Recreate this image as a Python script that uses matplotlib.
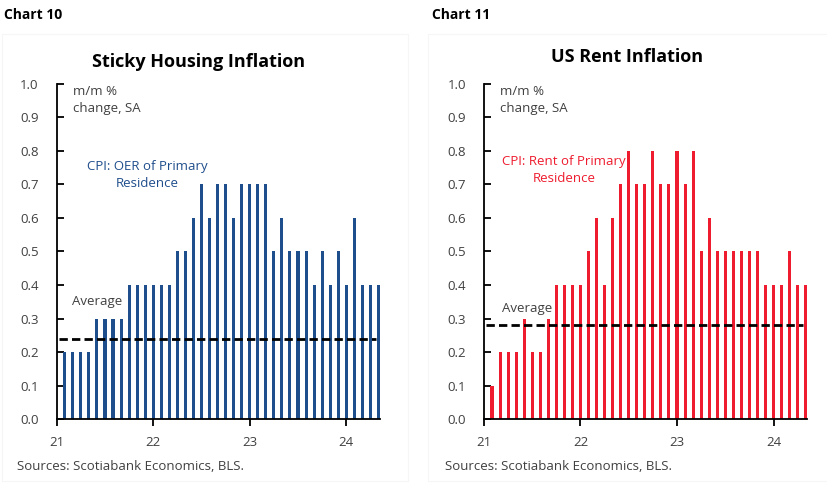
import numpy as np
import matplotlib.pyplot as plt
from matplotlib.patches import Rectangle

plt.rcParams['font.family'] = ['Open Sans', 'DejaVu Sans']

# months since Jan 2021 (bars start Feb 2021)
months = np.arange(1, 41)

oer = [0.2, 0.2, 0.2, 0.2, 0.3, 0.3, 0.3, 0.3, 0.4, 0.4,
       0.4, 0.4, 0.4, 0.4, 0.5, 0.5, 0.6, 0.7, 0.6, 0.7,
       0.7, 0.6, 0.7, 0.7, 0.7, 0.7, 0.5, 0.6, 0.5, 0.5,
       0.5, 0.4, 0.5, 0.4, 0.5, 0.4, 0.6, 0.4, 0.4, 0.4]
rent = [0.1, 0.2, 0.2, 0.2, 0.3, 0.2, 0.2, 0.3, 0.4, 0.4,
        0.4, 0.4, 0.5, 0.6, 0.4, 0.6, 0.7, 0.8, 0.7, 0.7,
        0.8, 0.7, 0.7, 0.8, 0.7, 0.8, 0.5, 0.6, 0.5, 0.5,
        0.5, 0.5, 0.5, 0.5, 0.4, 0.4, 0.4, 0.5, 0.4, 0.4]
oer_avg = 0.24
rent_avg = 0.28

year_ticks = [0, 12, 24, 36]
year_labels = ['21', '22', '23', '24']

blue = '#1f4e8c'
red = '#ee1c2e'
grey = '#404040'

fig = plt.figure(figsize=(8.28, 4.83), dpi=100)

# faint panel frames
for x0 in [2 / 828, 428 / 828]:
    fig.patches.append(Rectangle((x0, 0.004), 0.49, 0.925, transform=fig.transFigure,
                                 fill=False, edgecolor='#f6f6f6', lw=0.8))

panels = [
    dict(left=0.0685, vals=oer, avg=oer_avg, color=blue, title='Sticky Housing Inflation',
         title_x=198.7, title_y=61.7, chart='Chart 10', chart_x=4, src_x=17,
         lab='CPI: OER of Primary\nResidence', lab_x=0.279, lab_y=0.772, avg_x=0.048, avg_y=0.352),
    dict(left=0.5845, vals=rent, avg=rent_avg, color=red, title='US Rent Inflation',
         title_x=627, title_y=56.7, chart='Chart 11', chart_x=432, src_x=445,
         lab='CPI: Rent of Primary\nResidence', lab_x=0.248, lab_y=0.787, avg_x=0.055, avg_y=0.33),
]

for p in panels:
    ax = fig.add_axes([p['left'], 0.1319, 0.3905, 0.6952])
    ax.bar(months, p['vals'], width=0.38, color=p['color'], zorder=2)
    ax.hlines(p['avg'], 0.3, 39.7, colors='black', lw=2, linestyles=(0, (3, 1.5)), zorder=3)
    ax.set_xlim(0, 40.2)
    ax.set_ylim(0, 1.0)
    ax.set_yticks(np.arange(0, 1.01, 0.1))
    ax.set_yticklabels(['%.1f' % v for v in np.arange(0, 1.01, 0.1)])
    ax.set_xticks(year_ticks)
    ax.set_xticklabels(year_labels)
    for s in ['top', 'right']:
        ax.spines[s].set_visible(False)
    ax.spines['left'].set_linewidth(1.3)
    ax.spines['bottom'].set_linewidth(1.3)
    ax.tick_params(axis='y', direction='in', length=5, width=1.3, pad=13, labelsize=9.5, labelcolor=grey)
    ax.tick_params(axis='x', direction='out', length=5, width=1.3, pad=7, labelsize=9.5, labelcolor=grey)

    ax.text(0.05, 0.995, 'm/m %\nchange, SA', transform=ax.transAxes, ha='left', va='top',
            fontsize=9.5, color=grey, linespacing=1.35)
    ax.text(p['lab_x'], p['lab_y'], p['lab'], transform=ax.transAxes, ha='center', va='top',
            fontsize=9.5, color=p['color'], linespacing=1.35)
    ax.text(p['avg_x'], p['avg_y'], 'Average', transform=ax.transAxes, ha='left', va='center',
            fontsize=9.5, color=grey)

    fig.text(p['title_x'] / 828, 1 - p['title_y'] / 483, p['title'], ha='center', va='center',
             fontsize=13, fontweight='bold', color='black')
    fig.text(p['chart_x'] / 828, 1 - 15 / 483, p['chart'], ha='left', va='center',
             fontsize=10, fontweight='bold', color='black')
    fig.text(p['src_x'] / 828, 1 - 466.7 / 483, 'Sources: Scotiabank Economics, BLS.', ha='left',
             va='center', fontsize=9.5, color=grey)

fig.savefig('out.png', dpi=100)
